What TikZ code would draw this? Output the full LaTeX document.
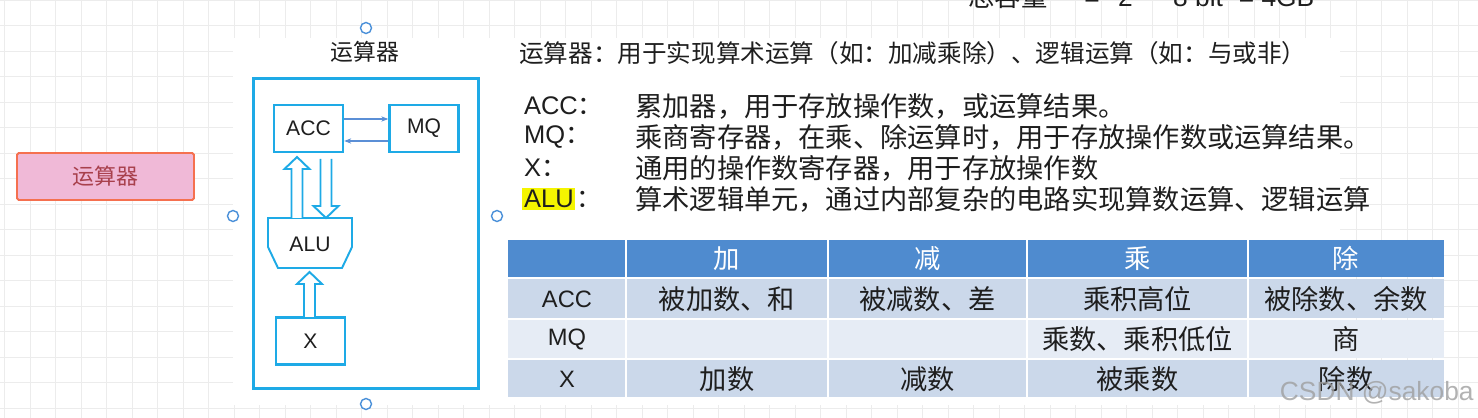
\documentclass[tikz,border=0pt]{standalone}
\usepackage{fontspec}
\setmainfont{Liberation Sans}
\newfontfamily\cjk{Noto Sans CJK SC}
\usetikzlibrary{arrows.meta}
\definecolor{cpublue}{HTML}{1EAAE6}
\definecolor{linkblue}{HTML}{5B8FD6}
\definecolor{handleblue}{HTML}{4A90D9}
\definecolor{boxpink}{HTML}{F0B9D7}
\definecolor{boxorange}{HTML}{F5704F}
\definecolor{boxtext}{HTML}{A8404C}
\definecolor{headblue}{HTML}{4F8BCF}
\definecolor{rowdark}{HTML}{CBD8EA}
\definecolor{rowlight}{HTML}{E6ECF5}
\definecolor{hlyellow}{HTML}{F5F500}
\definecolor{textgray}{HTML}{1E1E1E}
\definecolor{gridgray}{HTML}{ECECEC}

\tikzset{
  regbox/.style={draw=cpublue, line width=1.4pt, fill=white, minimum width=1.38cm, minimum height=0.94cm, inner sep=0pt, text=textgray, font=\fontsize{12pt}{12pt}\selectfont},
  blockarrow/.style={draw=cpublue, line width=1.1pt, fill=white, line join=miter},
  linkarrow/.style={draw=linkblue, line width=0.6pt, -{Stealth[length=4pt,width=3pt]}},
  handle/.style={circle, draw=handleblue, fill=white, line width=0.8pt, minimum size=0.22cm, inner sep=0pt},
  deflabel/.style={anchor=west, inner sep=1pt, text=textgray, font=\fontsize{14.5pt}{14.5pt}\selectfont},
  deftext/.style={anchor=west, inner sep=0pt, text=textgray, font=\cjk\fontsize{15.5pt}{15.5pt}\selectfont},
  cell/.style={inner sep=0pt, text=textgray, font=\cjk\fontsize{15.5pt}{15.5pt}\selectfont},
  headcell/.style={inner sep=0pt, text=white, font=\cjk\fontsize{15pt}{15pt}\selectfont},
  rowlabel/.style={inner sep=0pt, text=textgray, font=\fontsize{13.5pt}{13.5pt}\selectfont},
  gridline/.style={draw=gridgray, line width=0.5pt},
}

% hollow block arrows: x, base y, tip y (pixel units, y downwards)
\newcommand{\hollowup}[3]{\draw[blockarrow] (#1-5.5,#2) -- (#1-5.5,#3+12) -- (#1-12.5,#3+12) -- (#1,#3) -- (#1+12.5,#3+12) -- (#1+5.5,#3+12) -- (#1+5.5,#2);}
\newcommand{\hollowdown}[3]{\draw[blockarrow] (#1-5.5,#2) -- (#1-5.5,#3-12) -- (#1-12.5,#3-12) -- (#1,#3) -- (#1+12.5,#3-12) -- (#1+5.5,#3-12) -- (#1+5.5,#2);}

\begin{document}
\begin{tikzpicture}[x=0.02cm, y=-0.02cm]
\useasboundingbox (0,0) rectangle (1478,418);
\clip (0,0) rectangle (1478,418);
\fill[white] (0,0) rectangle (1478,418);

% background grid
\foreach \i in {0,...,57} \draw[gridline] (4.5+25.5*\i,0) -- ++(0,418);
\foreach \j in {0,...,16} \draw[gridline] (0,25.5*\j) -- ++(1478,0);
\fill[white] (233,38) rectangle (1340,405);

% top line, cut off
\node[anchor=west, inner sep=0pt, text=textgray, font=\fontsize{15pt}{15pt}\selectfont] (total) at (968,-4) {{\cjk 总容量}\hspace{1.4em}=\hspace{0.7em}2\textsuperscript{32}\,*\,8 bit\hspace{0.6em}= 4GB};

% left box
\node[draw=boxorange, fill=boxpink, line width=1.1pt, rounded corners=1pt, minimum width=3.54cm, minimum height=0.94cm, text=boxtext, font=\cjk\fontsize{12.5pt}{12.5pt}\selectfont] (unit) at (105.5,176.5) {运算器};

% arithmetic unit
\node[text=textgray, font=\cjk\fontsize{13pt}{13pt}\selectfont] (title) at (365,52) {运算器};
\node[draw=cpublue, line width=1.7pt, fill=white, minimum width=4.52cm, minimum height=6.22cm] (cpu) at (366,233.5) {};
\node[regbox] (acc) at (308.5,128.5) {ACC};
\node[regbox] (mq) at (424,128.5) {MQ};
\node[regbox] (x) at (310.5,341) {X};
\draw[blockarrow, fill=white] (268,218) -- (352,218) -- (352,247) -- (342,268) -- (278,268) -- (268,247) -- cycle;
\node[inner sep=0pt, text=textgray, font=\fontsize{12pt}{12pt}\selectfont] (alu) at (310,244) {ALU};
\draw[linkarrow] ([yshift=0.19cm]acc.east) -- ([yshift=0.19cm]mq.west);
\draw[linkarrow] ([yshift=-0.25cm]mq.west) -- ([yshift=-0.25cm]acc.east);
\hollowup{297}{218}{157}
\hollowdown{326}{159}{218}
\hollowup{309.5}{317}{272}

% selection handles
\node[handle] (hdn) at (366,28) {};
\node[handle] (hdw) at (233,216) {};
\node[handle] (hde) at (497,216) {};
\node[handle] (hds) at (366,404) {};

% description
\node[anchor=west, inner sep=0pt, text=textgray, font=\cjk\fontsize{14pt}{14pt}\selectfont] (intro) at (519,53) {运算器：用于实现算术运算（如：加减乘除）、逻辑运算（如：与或非）};
\node[deflabel] (lacc) at (522,106) {ACC{\cjk ：}};
\node[deflabel] (lmq) at (522,137) {MQ{\cjk ：}};
\node[deflabel] (lx) at (522,168) {X{\cjk ：}};
\node[deflabel, fill=hlyellow] (lalu) at (522,199) {ALU};
\node[deflabel, inner sep=0pt] (lalucol) at (lalu.east) {\cjk ：};
\node[deftext] (tacc) at (635,106) {累加器，用于存放操作数，或运算结果。};
\node[deftext] (tmq) at (635,137) {乘商寄存器，在乘、除运算时，用于存放操作数或运算结果。};
\node[deftext] (tx) at (635,168) {通用的操作数寄存器，用于存放操作数};
\node[deftext] (talu) at (635,199) {算术逻辑单元，通过内部复杂的电路实现算数运算、逻辑运算};

% table
\fill[headblue] (508,240) rectangle (1444,277);
\fill[rowdark] (508,279.5) rectangle (1444,318);
\fill[rowlight] (508,320) rectangle (1444,358);
\fill[rowdark] (508,360) rectangle (1444,397);
\foreach \x in {626,828,1027,1248} \draw[white, line width=1.1pt] (\x,240) -- (\x,397);
\node[headcell] (hadd) at (727,258.5) {加};
\node[headcell] (hsub) at (927.5,258.5) {减};
\node[headcell] (hmul) at (1137.5,258.5) {乘};
\node[headcell] (hdiv) at (1346,258.5) {除};
\node[rowlabel] (racc) at (567,299) {ACC};
\node[rowlabel] (rmq) at (567,339) {MQ};
\node[rowlabel] (rx) at (567,379) {X};
\node[cell] (caccadd) at (727,299) {被加数、和};
\node[cell] (caccsub) at (927.5,299) {被减数、差};
\node[cell] (caccmul) at (1137.5,299) {乘积高位};
\node[cell] (caccdiv) at (1346,299) {被除数、余数};
\node[cell] (cmqmul) at (1137.5,339) {乘数、乘积低位};
\node[cell] (cmqdiv) at (1346,339) {商};
\node[cell] (cxadd) at (727,379) {加数};
\node[cell] (cxsub) at (927.5,379) {减数};
\node[cell] (cxmul) at (1137.5,379) {被乘数};
\node[cell] (cxdiv) at (1346,379) {除数};

% watermark
\node[anchor=east, inner sep=0pt, text=gray!75, opacity=0.8, font=\fontsize{15pt}{15pt}\selectfont] (mark) at (1474,393) {CSDN @sakoba};
\end{tikzpicture}
\end{document}
